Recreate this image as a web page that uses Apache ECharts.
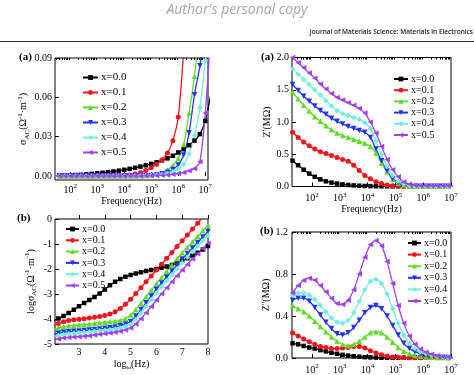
<!DOCTYPE html>
<html>
<head>
<meta charset="utf-8">
<script src="https://cdn.jsdelivr.net/npm/echarts@6/dist/echarts.min.js"></script>
<style>
  html, body { margin: 0; padding: 0; background: #fff; }
  #main { width: 474px; height: 375px; }
</style>
</head>
<body>
<div id="main"></div>
<script>
// --- data ---
var names = ['x=0.0', 'x=0.1', 'x=0.2', 'x=0.3', 'x=0.4', 'x=0.5'];

// (a) left: sigma_ac (units of 1e-3 S/m) vs log10 f
var logF_a = [1.4,1.6,1.8,2.0,2.2,2.4,2.6,2.8,3.0,3.2, 3.4,3.6,3.8,4.0,4.2,4.4,4.6,4.8,5.0,5.2, 5.4,5.6,5.8,6.0,6.2,6.4,6.6,6.8,7.0,7.2];
var sigmaAC = [
  [0.2,0.3,0.4,0.6,0.8,1.0,1.3,1.7,2.1,2.5, 3.0,3.5,4.1,4.8,5.5,6.3,7.2,8.2,9.3,10.5, 12,13.5,15.5,18,20.5,23.5,27,32,42,62],
  [0.1,0.1,0.1,0.1,0.1,0.1,0.1,0.12,0.15,0.18, 0.22,0.28,0.36,0.5,0.8,1.5,2.5,4.2,6.3,9, 12.5,17.5,27,45,95,160,250,350,450,550],
  [0.05,0.05,0.05,0.05,0.05,0.05,0.06,0.06,0.07,0.07, 0.08,0.09,0.1,0.12,0.15,0.2,0.3,0.5,0.9,1.6, 2.8,4.8,8,13.5,24,48,76,120,180,250],
  [0.04,0.04,0.04,0.04,0.04,0.04,0.05,0.05,0.05,0.06, 0.06,0.07,0.08,0.09,0.11,0.14,0.2,0.3,0.5,0.9, 1.7,3,5,8.5,16,33,62,84,120,170],
  [0.03,0.03,0.03,0.03,0.03,0.03,0.04,0.04,0.04,0.05, 0.05,0.06,0.07,0.08,0.1,0.12,0.16,0.23,0.35,0.6, 1.1,1.9,3.2,5.5,9,17,31,52,88,130],
  [0.02,0.02,0.02,0.02,0.02,0.02,0.02,0.02,0.02,0.02, 0.02,0.03,0.03,0.04,0.05,0.07,0.1,0.15,0.25,0.4, 0.6,0.9,1.3,1.9,2.8,4,5.8,11,48,110]
];

// (a) right and (b) right: Z' and Z'' (MOhm) vs log10 f
var logF_z = [1.3,1.5,1.7,1.9,2.1,2.3,2.5,2.7,2.9,3.1, 3.3,3.5,3.7,3.9,4.1,4.3,4.5,4.7,4.9,5.1, 5.3,5.5,5.7,5.9,6.1,6.3,6.5,6.7,6.9,7.1];
var zReal = [
  [0.40,0.33,0.26,0.20,0.15,0.11,0.08,0.06,0.045,0.033, 0.024,0.017,0.012,0.008,0.006,0.004,0.003,0.003,0.003,0.003, 0.003,0.003,0.003,0.003,0.003,0.003,0.003,0.003,0.003,0.003],
  [0.84,0.76,0.69,0.63,0.58,0.54,0.51,0.48,0.45,0.42, 0.39,0.33,0.25,0.17,0.12,0.075,0.045,0.025,0.013,0.007, 0.004,0.003,0.003,0.003,0.003,0.003,0.003,0.003,0.003,0.003],
  [1.46,1.36,1.26,1.17,1.08,1.01,0.94,0.88,0.83,0.79, 0.76,0.73,0.70,0.67,0.62,0.52,0.36,0.23,0.11,0.05, 0.02,0.008,0.005,0.004,0.004,0.004,0.004,0.004,0.004,0.004],
  [1.58,1.49,1.40,1.32,1.25,1.18,1.12,1.06,1.01,0.97, 0.93,0.90,0.87,0.84,0.76,0.58,0.40,0.24,0.12,0.055, 0.022,0.01,0.005,0.004,0.004,0.004,0.004,0.004,0.004,0.004],
  [1.82,1.74,1.66,1.58,1.50,1.42,1.33,1.25,1.18,1.13, 1.10,1.07,1.04,0.99,0.90,0.71,0.50,0.31,0.17,0.08, 0.035,0.015,0.008,0.005,0.005,0.005,0.005,0.005,0.005,0.005],
  [2.00,1.92,1.84,1.76,1.68,1.59,1.51,1.44,1.38,1.34, 1.30,1.26,1.21,1.14,1.00,0.83,0.62,0.42,0.26,0.15, 0.07,0.035,0.02,0.013,0.01,0.01,0.01,0.01,0.01,0.01]
];
var zImag = [
  [0.14,0.13,0.115,0.10,0.09,0.075,0.063,0.05,0.04,0.03, 0.023,0.017,0.012,0.008,0.006,0.004,0.003,0.003,0.003,0.003, 0.003,0.003,0.003,0.003,0.003,0.003,0.003,0.003,0.003,0.003],
  [0.24,0.21,0.18,0.155,0.13,0.11,0.10,0.09,0.09,0.095, 0.10,0.11,0.11,0.095,0.07,0.048,0.03,0.018,0.01,0.006, 0.004,0.003,0.003,0.003,0.003,0.003,0.003,0.003,0.003,0.003],
  [0.50,0.47,0.44,0.40,0.35,0.30,0.25,0.20,0.16,0.13, 0.12,0.13,0.16,0.20,0.24,0.25,0.24,0.20,0.15,0.10, 0.065,0.04,0.025,0.016,0.01,0.007,0.005,0.004,0.003,0.003],
  [0.55,0.57,0.57,0.54,0.48,0.41,0.34,0.28,0.23,0.22, 0.24,0.29,0.36,0.43,0.48,0.50,0.47,0.40,0.31,0.22, 0.14,0.09,0.06,0.04,0.026,0.017,0.011,0.007,0.005,0.004],
  [0.60,0.62,0.62,0.60,0.56,0.50,0.44,0.38,0.34,0.33, 0.36,0.43,0.54,0.65,0.73,0.75,0.71,0.61,0.47,0.33, 0.22,0.14,0.09,0.06,0.04,0.026,0.017,0.011,0.007,0.005],
  [0.62,0.69,0.74,0.76,0.74,0.69,0.63,0.57,0.52,0.51, 0.55,0.65,0.80,0.96,1.08,1.12,1.07,0.92,0.71,0.50, 0.33,0.21,0.13,0.085,0.055,0.035,0.022,0.014,0.009,0.006]
];

// (b) left: log sigma_ac vs log omega
var logW = [2.0,2.2,2.4,2.6,2.8,3.0,3.2,3.4,3.6,3.8, 4.0,4.2,4.4,4.6,4.8,5.0,5.2,5.4,5.6,5.8, 6.0,6.2,6.4,6.6,6.8,7.0,7.2,7.4,7.6,7.8,8.0];
var logSigma = [
  [-4.08,-3.98,-3.88,-3.76,-3.63,-3.49,-3.36,-3.24,-3.12,-2.98, -2.82,-2.65,-2.51,-2.40,-2.31,-2.24,-2.18,-2.13,-2.08,-2.04, -2.00,-1.95,-1.90,-1.84,-1.76,-1.67,-1.57,-1.46,-1.35,-1.22,-1.08],
  [-4.26,-4.18,-4.11,-4.06,-4.03,-4.01,-3.99,-3.96,-3.93,-3.90, -3.86,-3.80,-3.71,-3.58,-3.41,-3.21,-2.98,-2.75,-2.51,-2.28, -2.04,-1.81,-1.57,-1.34,-1.10,-0.87,-0.64,-0.40,-0.17,0.07,0.30],
  [-4.42,-4.36,-4.31,-4.28,-4.26,-4.24,-4.22,-4.20,-4.17,-4.15, -4.13,-4.11,-4.09,-4.06,-3.98,-3.84,-3.62,-3.37,-3.11,-2.85, -2.59,-2.34,-2.09,-1.84,-1.59,-1.35,-1.13,-0.91,-0.69,-0.47,-0.25],
  [-4.62,-4.57,-4.53,-4.51,-4.49,-4.48,-4.46,-4.44,-4.42,-4.40, -4.37,-4.35,-4.32,-4.27,-4.20,-4.10,-3.88,-3.62,-3.35,-3.08, -2.81,-2.56,-2.32,-2.08,-1.84,-1.60,-1.38,-1.16,-0.94,-0.72,-0.50],
  [-4.70,-4.66,-4.62,-4.59,-4.57,-4.55,-4.53,-4.51,-4.49,-4.47, -4.45,-4.43,-4.40,-4.36,-4.30,-4.22,-4.02,-3.77,-3.50,-3.23, -2.96,-2.71,-2.47,-2.23,-1.99,-1.75,-1.53,-1.31,-1.09,-0.87,-0.65],
  [-4.84,-4.80,-4.76,-4.74,-4.72,-4.71,-4.69,-4.67,-4.64,-4.61, -4.58,-4.56,-4.53,-4.49,-4.44,-4.36,-4.20,-3.99,-3.75,-3.50, -3.24,-2.99,-2.75,-2.51,-2.27,-2.04,-1.82,-1.60,-1.39,-1.18,-0.97]
];

// tick labels
var decadeTicks = [2, 3, 4, 5, 6, 7];
var omegaTicks = [3, 4, 5, 6, 7, 8];
var sigmaTicks = [0, 30, 60, 90];

// --- styling ---
var colors = ['#000000', '#f2141a', '#5fdc27', '#1f35f5', '#70eedf', '#a040f0'];
var symbols = ['rect', 'circle', 'triangle', 'triangle', 'diamond', 'triangle'];
var rotations = [0, 0, 0, 180, 0, 90];
var sizes = [4.5, 5, 5.5, 5.5, 5.5, 5.5];
var FONT = '"Liberation Serif", "Times New Roman", serif';

var myChart = echarts.init(document.getElementById('main'), null, { renderer: 'canvas' });

function pairs(xs, ys) {
  return xs.map(function (x, j) { return [x, ys[j]]; });
}

function lineSeries(panel, xs, ys, i) {
  return {
    type: 'line',
    name: names[i],
    xAxisIndex: panel,
    yAxisIndex: panel,
    data: pairs(xs, ys),
    smooth: 0.25,
    symbol: symbols[i],
    symbolSize: sizes[i],
    symbolRotate: rotations[i],
    showAllSymbol: true,
    clip: true,
    lineStyle: { width: 1.3, color: colors[i] },
    itemStyle: { color: colors[i] },
    animation: false
  };
}

// log x axis built on log10 values, labels shown as powers of ten
function powLabel(v) { return '{b|10}{p|' + v + '}'; }
var powRich = {
  b: { fontFamily: FONT, fontSize: 10, color: '#000', lineHeight: 12, verticalAlign: 'bottom' },
  p: { fontFamily: FONT, fontSize: 7, color: '#000', lineHeight: 12, verticalAlign: 'top' }
};

function minorLogTicks(min, max) {
  var out = [];
  for (var n = 1; n <= 7; n++) {
    for (var k = 2; k <= 9; k++) {
      var v = n + Math.log10(k);
      if (v > min && v < max) out.push(v);
    }
  }
  return out;
}

function xAxisMain(grid, min, max, ticks, fmt, rich, name, gap, margin) {
  return {
    type: 'value', gridIndex: grid, min: min, max: max,
    axisLine: { show: false },
    splitLine: { show: false },
    axisTick: { show: true, inside: true, length: 4, customValues: ticks, lineStyle: { color: '#000' } },
    axisLabel: { customValues: ticks, formatter: fmt, rich: rich, margin: margin,
                 fontFamily: FONT, fontSize: 10, color: '#000' },
    name: name, nameLocation: 'middle', nameGap: gap,
    nameTextStyle: { fontFamily: FONT, fontSize: 10, color: '#000' }
  };
}

function xAxisMinor(grid, min, max) {
  return {
    type: 'value', gridIndex: grid, min: min, max: max,
    axisLine: { show: false }, splitLine: { show: false },
    axisTick: { show: true, inside: true, length: 2, customValues: minorLogTicks(min, max), lineStyle: { color: '#000' } },
    axisLabel: { show: false }
  };
}

function yAxisBase(grid, opts) {
  var a = {
    type: 'value', gridIndex: grid,
    axisLine: { show: false },
    splitLine: { show: false },
    axisTick: { show: true, inside: true, length: 4, lineStyle: { color: '#000' } },
    axisLabel: { fontFamily: FONT, fontSize: 10, color: '#000', margin: 3 },
    nameLocation: 'middle', nameRotate: 90,
    nameTextStyle: { fontFamily: FONT, fontSize: 10, color: '#000' }
  };
  for (var k in opts) {
    if (k === 'axisLabel' || k === 'axisTick' || k === 'nameTextStyle') Object.assign(a[k], opts[k]);
    else a[k] = opts[k];
  }
  return a;
}

var nameRich = {
  t: { fontFamily: FONT, fontSize: 10, color: '#000', lineHeight: 14, verticalAlign: 'middle' },
  s: { fontFamily: FONT, fontSize: 7, color: '#000', lineHeight: 14, verticalAlign: 'bottom' },
  u: { fontFamily: FONT, fontSize: 7, color: '#000', lineHeight: 14, verticalAlign: 'top' }
};

var gridStyle = { show: true, borderColor: '#000', borderWidth: 1, backgroundColor: 'transparent' };

var series = [];
for (var i = 0; i < 6; i++) series.push(lineSeries(0, logF_a, sigmaAC[i], i));
for (i = 0; i < 6; i++) series.push(lineSeries(1, logF_z, zReal[i], i));
for (i = 0; i < 6; i++) series.push(lineSeries(2, logW, logSigma[i], i));
for (i = 0; i < 6; i++) series.push(lineSeries(3, logF_z, zImag[i], i));

function legendAt(left, top, w, gap, size) {
  return {
    orient: 'vertical', left: left, top: top, padding: 0,
    itemWidth: w, itemHeight: 6, itemGap: gap,
    selectedMode: false,
    data: names,
    textStyle: { fontFamily: FONT, fontSize: size, color: '#000', lineHeight: 9, padding: [0, 0, 0, -2] }
  };
}

var option = {
  backgroundColor: '#fff',
  animation: false,
  grid: [
    Object.assign({ left: 55, top: 58, width: 153, height: 122 }, gridStyle),
    Object.assign({ left: 292, top: 57.5, width: 159, height: 129 }, gridStyle),
    Object.assign({ left: 55, top: 219, width: 153, height: 125 }, gridStyle),
    Object.assign({ left: 292, top: 232, width: 159, height: 129 }, gridStyle)
  ],
  xAxis: [
    xAxisMain(0, 1.44, 7.1, decadeTicks, powLabel, powRich, 'Frequency(Hz)', 13, 3),
    xAxisMain(1, 1.28, 7.0, decadeTicks, powLabel, powRich, 'Frequency(Hz)', 18, 5),
    xAxisMain(2, 2.07, 8.0, omegaTicks, function (v) { return String(v); }, null, '', 13, 3),
    xAxisMain(3, 1.28, 7.0, decadeTicks, powLabel, powRich, '', 18, 5),
    xAxisMinor(0, 1.44, 7.1),
    xAxisMinor(1, 1.28, 7.0),
    xAxisMinor(3, 1.28, 7.0)
  ],
  yAxis: [
    yAxisBase(0, {
      min: -3, max: 90,
      axisTick: { customValues: sigmaTicks },
      axisLabel: { customValues: sigmaTicks, formatter: function (v) { return (v / 1000).toFixed(2); } },
      name: '{t|σ}{s|AC}{t|(Ω}{u|-1}{t|·m}{u|-1}{t|)}', nameGap: 16,
      nameTextStyle: { rich: nameRich }
    }),
    yAxisBase(1, {
      min: 0, max: 2, interval: 0.5,
      axisLabel: { formatter: function (v) { return v.toFixed(1); } },
      name: "Z'(MΩ)", nameGap: 14
    }),
    yAxisBase(2, {
      min: -5, max: 0, interval: 1,
      axisLabel: { formatter: function (v) { return String(v); } },
      name: '{t|logσ}{s|AC}{t|(Ω}{u|-1}{t|·m}{u|-1}{t|)}', nameGap: 17,
      nameTextStyle: { rich: nameRich }
    }),
    yAxisBase(3, {
      min: 0, max: 1.2, interval: 0.4,
      axisLabel: { formatter: function (v) { return v.toFixed(1); }, margin: 4 },
      name: "Z''(MΩ)", nameGap: 14
    })
  ],
  legend: [
    legendAt(82, 72, 15, 4, 11),
    legendAt(393, 74, 14, 1.2, 10),
    legendAt(65, 224, 13, 1.3, 10),
    legendAt(407, 238, 13, 1.6, 10)
  ],
  graphic: [
    { type: 'text', left: 'center', top: 3,
      style: { text: "Author's personal copy", fill: '#a6a6a6', font: 'italic 14px "Open Sans", sans-serif' } },
    { type: 'text', right: 1, top: 29,
      style: { text: 'Journal of Materials Science: Materials in Electronics', fill: '#222', font: '600 6.5px "Open Sans", sans-serif' } },
    { type: 'line', shape: { x1: 0, y1: 41.5, x2: 474, y2: 41.5 }, style: { stroke: '#333', lineWidth: 1 } },
    { type: 'text', left: 19, top: 52, style: { text: '(a)', fill: '#000', font: 'bold 11px "Liberation Serif", serif' } },
    { type: 'text', left: 261, top: 52, style: { text: '(a)', fill: '#000', font: 'bold 11px "Liberation Serif", serif' } },
    { type: 'text', left: 17, top: 213, style: { text: '(b)', fill: '#000', font: 'bold 11px "Liberation Serif", serif' } },
    { type: 'text', left: 260, top: 226, style: { text: '(b)', fill: '#000', font: 'bold 11px "Liberation Serif", serif' } }
  ],
  series: series
};

// lower-left x name with a subscript omega
option.xAxis[2].name = '{t|log}{s|ω}{t|(Hz)}';
option.xAxis[2].nameTextStyle.rich = nameRich;

myChart.setOption(option);
window.addEventListener('resize', function () { myChart.resize(); });
</script>
</body>
</html>
